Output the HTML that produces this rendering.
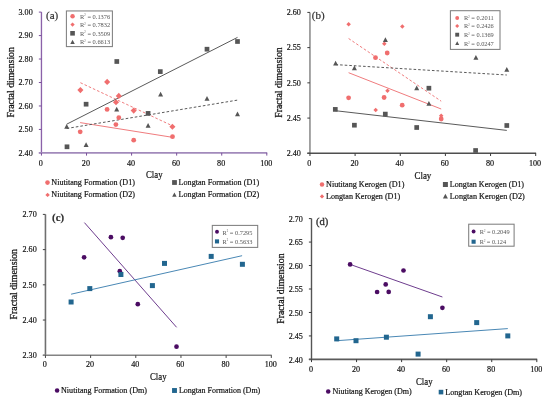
<!DOCTYPE html>
<html><head><meta charset="utf-8"><style>
html,body{margin:0;padding:0;background:#fff;}
body{width:550px;height:404px;overflow:hidden;}
svg{display:block;font-family:"Liberation Serif", serif;filter:blur(0.2px);}
</style></head><body>
<svg width="550" height="404" viewBox="0 0 550 404">
<rect width="550" height="404" fill="#fff"/>
<line x1="41.45" y1="12.10" x2="41.45" y2="152.90" stroke="#8b62a9" stroke-width="1.35" stroke-linecap="butt"/>
<line x1="38.85" y1="12.10" x2="41.45" y2="12.10" stroke="#7a4f9b" stroke-width="1.0" stroke-linecap="butt"/>
<text x="32.70" y="14.85" font-size="8.1" text-anchor="end" fill="#111111" stroke="#111111" stroke-width="0.18">3.00</text>
<line x1="38.85" y1="35.57" x2="41.45" y2="35.57" stroke="#7a4f9b" stroke-width="1.0" stroke-linecap="butt"/>
<text x="32.70" y="38.32" font-size="8.1" text-anchor="end" fill="#111111" stroke="#111111" stroke-width="0.18">2.90</text>
<line x1="38.85" y1="59.03" x2="41.45" y2="59.03" stroke="#7a4f9b" stroke-width="1.0" stroke-linecap="butt"/>
<text x="32.70" y="61.79" font-size="8.1" text-anchor="end" fill="#111111" stroke="#111111" stroke-width="0.18">2.80</text>
<line x1="38.85" y1="82.50" x2="41.45" y2="82.50" stroke="#7a4f9b" stroke-width="1.0" stroke-linecap="butt"/>
<text x="32.70" y="85.25" font-size="8.1" text-anchor="end" fill="#111111" stroke="#111111" stroke-width="0.18">2.70</text>
<line x1="38.85" y1="105.97" x2="41.45" y2="105.97" stroke="#7a4f9b" stroke-width="1.0" stroke-linecap="butt"/>
<text x="32.70" y="108.72" font-size="8.1" text-anchor="end" fill="#111111" stroke="#111111" stroke-width="0.18">2.60</text>
<line x1="38.85" y1="129.43" x2="41.45" y2="129.43" stroke="#7a4f9b" stroke-width="1.0" stroke-linecap="butt"/>
<text x="32.70" y="132.19" font-size="8.1" text-anchor="end" fill="#111111" stroke="#111111" stroke-width="0.18">2.50</text>
<line x1="38.85" y1="152.90" x2="41.45" y2="152.90" stroke="#7a4f9b" stroke-width="1.0" stroke-linecap="butt"/>
<text x="32.70" y="155.65" font-size="8.1" text-anchor="end" fill="#111111" stroke="#111111" stroke-width="0.18">2.40</text>
<line x1="38.85" y1="152.90" x2="267.20" y2="152.90" stroke="#a28abb" stroke-width="1.7" stroke-linecap="butt"/>
<line x1="41.45" y1="152.90" x2="41.45" y2="155.60" stroke="#7a4f9b" stroke-width="1.0" stroke-linecap="butt"/>
<text x="40.85" y="165.60" font-size="8.1" text-anchor="middle" fill="#111111" stroke="#111111" stroke-width="0.18">0</text>
<line x1="86.52" y1="152.90" x2="86.52" y2="155.60" stroke="#7a4f9b" stroke-width="1.0" stroke-linecap="butt"/>
<text x="85.92" y="165.60" font-size="8.1" text-anchor="middle" fill="#111111" stroke="#111111" stroke-width="0.18">20</text>
<line x1="131.59" y1="152.90" x2="131.59" y2="155.60" stroke="#7a4f9b" stroke-width="1.0" stroke-linecap="butt"/>
<text x="130.99" y="165.60" font-size="8.1" text-anchor="middle" fill="#111111" stroke="#111111" stroke-width="0.18">40</text>
<line x1="176.66" y1="152.90" x2="176.66" y2="155.60" stroke="#7a4f9b" stroke-width="1.0" stroke-linecap="butt"/>
<text x="176.06" y="165.60" font-size="8.1" text-anchor="middle" fill="#111111" stroke="#111111" stroke-width="0.18">60</text>
<line x1="221.73" y1="152.90" x2="221.73" y2="155.60" stroke="#7a4f9b" stroke-width="1.0" stroke-linecap="butt"/>
<text x="221.13" y="165.60" font-size="8.1" text-anchor="middle" fill="#111111" stroke="#111111" stroke-width="0.18">80</text>
<line x1="266.80" y1="152.90" x2="266.80" y2="155.60" stroke="#7a4f9b" stroke-width="1.0" stroke-linecap="butt"/>
<text x="266.20" y="165.60" font-size="8.1" text-anchor="middle" fill="#111111" stroke="#111111" stroke-width="0.18">100</text>
<text x="46.00" y="18.50" font-size="11" text-anchor="start" fill="#2e2e2e" stroke="#2e2e2e" stroke-width="0.18">(a)</text>
<text x="0" y="0" font-size="10.0" text-anchor="middle" fill="#111111" transform="translate(13.90,82.30) rotate(-90)" stroke="#111111" stroke-width="0.25" textLength="70.4" lengthAdjust="spacingAndGlyphs">Fractal dimension</text>
<text x="154.25" y="178.10" font-size="9.8" text-anchor="middle" fill="#111111" textLength="16.6" lengthAdjust="spacingAndGlyphs" stroke="#111111" stroke-width="0.18">Clay</text>
<line x1="80.10" y1="122.60" x2="172.40" y2="137.30" stroke="#f07c7e" stroke-width="1.0" stroke-linecap="butt"/>
<line x1="80.40" y1="82.70" x2="172.40" y2="125.80" stroke="#f07c7e" stroke-width="1.0" stroke-dasharray="2.6,2.0" stroke-linecap="butt"/>
<line x1="66.70" y1="124.20" x2="237.50" y2="37.40" stroke="#5a5a5a" stroke-width="1.0" stroke-linecap="butt"/>
<line x1="66.70" y1="128.50" x2="237.50" y2="100.10" stroke="#5a5a5a" stroke-width="1.0" stroke-dasharray="2.6,2.0" stroke-linecap="butt"/>
<circle cx="80.20" cy="131.80" r="2.40" fill="#f06e6e"/>
<circle cx="107.10" cy="109.40" r="2.40" fill="#f06e6e"/>
<circle cx="115.90" cy="124.60" r="2.40" fill="#f06e6e"/>
<circle cx="118.80" cy="117.70" r="2.40" fill="#f06e6e"/>
<circle cx="133.70" cy="140.20" r="2.40" fill="#f06e6e"/>
<circle cx="172.50" cy="136.70" r="2.40" fill="#f06e6e"/>
<path d="M80.40 87.05L83.45 90.10L80.40 93.15L77.35 90.10Z" fill="#f06e6e"/>
<path d="M107.15 78.85L110.20 81.90L107.15 84.95L104.10 81.90Z" fill="#f06e6e"/>
<path d="M116.00 99.15L119.05 102.20L116.00 105.25L112.95 102.20Z" fill="#f06e6e"/>
<path d="M118.80 92.85L121.85 95.90L118.80 98.95L115.75 95.90Z" fill="#f06e6e"/>
<path d="M133.70 107.55L136.75 110.60L133.70 113.65L130.65 110.60Z" fill="#f06e6e"/>
<path d="M172.40 123.75L175.45 126.80L172.40 129.85L169.35 126.80Z" fill="#f06e6e"/>
<rect x="64.65" y="144.45" width="4.70" height="4.70" fill="#565656"/>
<rect x="83.75" y="101.85" width="4.70" height="4.70" fill="#565656"/>
<rect x="114.45" y="59.15" width="4.70" height="4.70" fill="#565656"/>
<rect x="145.75" y="111.05" width="4.70" height="4.70" fill="#565656"/>
<rect x="157.95" y="69.25" width="4.70" height="4.70" fill="#565656"/>
<rect x="204.65" y="46.85" width="4.70" height="4.70" fill="#565656"/>
<rect x="235.15" y="39.15" width="4.70" height="4.70" fill="#565656"/>
<path d="M66.70 124.09L69.20 128.84L64.20 128.84Z" fill="#565656"/>
<path d="M86.10 142.29L88.60 147.04L83.60 147.04Z" fill="#565656"/>
<path d="M116.70 106.69L119.20 111.44L114.20 111.44Z" fill="#565656"/>
<path d="M148.10 122.99L150.60 127.74L145.60 127.74Z" fill="#565656"/>
<path d="M160.60 91.79L163.10 96.54L158.10 96.54Z" fill="#565656"/>
<path d="M207.00 95.99L209.50 100.74L204.50 100.74Z" fill="#565656"/>
<path d="M237.50 111.49L240.00 116.24L235.00 116.24Z" fill="#565656"/>
<rect x="66.40" y="10.95" width="46.00" height="35.65" fill="#fff" stroke="#7f7f7f" stroke-width="1.05"/>
<circle cx="72.55" cy="16.20" r="2.25" fill="#f06e6e"/>
<text x="80.10" y="18.50" font-size="7.1" fill="#555555" textLength="30.1" lengthAdjust="spacingAndGlyphs">R<tspan font-size="3.19" dy="-2.27">2</tspan><tspan dy="2.27"> = 0.1376</tspan></text>
<path d="M72.55 22.45L74.70 24.60L72.55 26.75L70.40 24.60Z" fill="#f06e6e"/>
<text x="80.10" y="27.10" font-size="7.1" fill="#555555" textLength="30.1" lengthAdjust="spacingAndGlyphs">R<tspan font-size="3.19" dy="-2.27">2</tspan><tspan dy="2.27"> = 0.7832</tspan></text>
<rect x="70.25" y="31.00" width="4.60" height="4.60" fill="#565656"/>
<text x="80.10" y="35.60" font-size="7.1" fill="#555555" textLength="30.1" lengthAdjust="spacingAndGlyphs">R<tspan font-size="3.19" dy="-2.27">2</tspan><tspan dy="2.27"> = 0.3509</tspan></text>
<path d="M72.55 39.75L74.80 44.02L70.30 44.02Z" fill="#565656"/>
<text x="80.10" y="44.40" font-size="7.1" fill="#555555" textLength="30.1" lengthAdjust="spacingAndGlyphs">R<tspan font-size="3.19" dy="-2.27">2</tspan><tspan dy="2.27"> = 0.6613</tspan></text>
<circle cx="47.50" cy="182.60" r="2.30" fill="#f06e6e"/>
<text x="51.30" y="184.90" font-size="8.1" text-anchor="start" fill="#111111" textLength="83.6" lengthAdjust="spacingAndGlyphs" stroke="#111111" stroke-width="0.18">Niutitang Formation (D1)</text>
<path d="M47.60 192.70L49.80 194.90L47.60 197.10L45.40 194.90Z" fill="#f06e6e"/>
<text x="51.30" y="196.80" font-size="8.1" text-anchor="start" fill="#111111" textLength="83.6" lengthAdjust="spacingAndGlyphs" stroke="#111111" stroke-width="0.18">Niutitang Formation (D2)</text>
<rect x="172.10" y="180.10" width="4.80" height="4.80" fill="#565656"/>
<text x="178.50" y="184.90" font-size="8.1" text-anchor="start" fill="#111111" textLength="80.6" lengthAdjust="spacingAndGlyphs" stroke="#111111" stroke-width="0.18">Longtan Formation (D1)</text>
<path d="M174.40 192.55L176.65 196.82L172.15 196.82Z" fill="#565656"/>
<text x="178.50" y="196.80" font-size="8.1" text-anchor="start" fill="#111111" textLength="80.6" lengthAdjust="spacingAndGlyphs" stroke="#111111" stroke-width="0.18">Longtan Formation (D2)</text>
<line x1="309.95" y1="12.40" x2="309.95" y2="153.30" stroke="#8f8f8f" stroke-width="1.6" stroke-linecap="butt"/>
<line x1="307.35" y1="12.40" x2="309.95" y2="12.40" stroke="#3a3a3a" stroke-width="1.0" stroke-linecap="butt"/>
<text x="300.90" y="15.15" font-size="8.1" text-anchor="end" fill="#111111" stroke="#111111" stroke-width="0.18">2.60</text>
<line x1="307.35" y1="47.62" x2="309.95" y2="47.62" stroke="#3a3a3a" stroke-width="1.0" stroke-linecap="butt"/>
<text x="300.90" y="50.38" font-size="8.1" text-anchor="end" fill="#111111" stroke="#111111" stroke-width="0.18">2.55</text>
<line x1="307.35" y1="82.85" x2="309.95" y2="82.85" stroke="#3a3a3a" stroke-width="1.0" stroke-linecap="butt"/>
<text x="300.90" y="85.60" font-size="8.1" text-anchor="end" fill="#111111" stroke="#111111" stroke-width="0.18">2.50</text>
<line x1="307.35" y1="118.08" x2="309.95" y2="118.08" stroke="#3a3a3a" stroke-width="1.0" stroke-linecap="butt"/>
<text x="300.90" y="120.83" font-size="8.1" text-anchor="end" fill="#111111" stroke="#111111" stroke-width="0.18">2.45</text>
<line x1="307.35" y1="153.30" x2="309.95" y2="153.30" stroke="#3a3a3a" stroke-width="1.0" stroke-linecap="butt"/>
<text x="300.90" y="156.05" font-size="8.1" text-anchor="end" fill="#111111" stroke="#111111" stroke-width="0.18">2.40</text>
<line x1="307.35" y1="153.30" x2="536.10" y2="153.30" stroke="#4f4f4f" stroke-width="1.5" stroke-linecap="butt"/>
<line x1="309.95" y1="153.30" x2="309.95" y2="156.00" stroke="#3a3a3a" stroke-width="1.0" stroke-linecap="butt"/>
<text x="309.35" y="165.60" font-size="8.1" text-anchor="middle" fill="#111111" stroke="#111111" stroke-width="0.18">0</text>
<line x1="355.10" y1="153.30" x2="355.10" y2="156.00" stroke="#3a3a3a" stroke-width="1.0" stroke-linecap="butt"/>
<text x="354.50" y="165.60" font-size="8.1" text-anchor="middle" fill="#111111" stroke="#111111" stroke-width="0.18">20</text>
<line x1="400.25" y1="153.30" x2="400.25" y2="156.00" stroke="#3a3a3a" stroke-width="1.0" stroke-linecap="butt"/>
<text x="399.65" y="165.60" font-size="8.1" text-anchor="middle" fill="#111111" stroke="#111111" stroke-width="0.18">40</text>
<line x1="445.40" y1="153.30" x2="445.40" y2="156.00" stroke="#3a3a3a" stroke-width="1.0" stroke-linecap="butt"/>
<text x="444.80" y="165.60" font-size="8.1" text-anchor="middle" fill="#111111" stroke="#111111" stroke-width="0.18">60</text>
<line x1="490.55" y1="153.30" x2="490.55" y2="156.00" stroke="#3a3a3a" stroke-width="1.0" stroke-linecap="butt"/>
<text x="489.95" y="165.60" font-size="8.1" text-anchor="middle" fill="#111111" stroke="#111111" stroke-width="0.18">80</text>
<line x1="535.70" y1="153.30" x2="535.70" y2="156.00" stroke="#3a3a3a" stroke-width="1.0" stroke-linecap="butt"/>
<text x="535.10" y="165.60" font-size="8.1" text-anchor="middle" fill="#111111" stroke="#111111" stroke-width="0.18">100</text>
<text x="311.80" y="19.10" font-size="11" text-anchor="start" fill="#2e2e2e" stroke="#2e2e2e" stroke-width="0.18">(b)</text>
<text x="0" y="0" font-size="10.0" text-anchor="middle" fill="#111111" transform="translate(281.90,82.50) rotate(-90)" stroke="#111111" stroke-width="0.25" textLength="70.4" lengthAdjust="spacingAndGlyphs">Fractal dimension</text>
<text x="422.90" y="178.80" font-size="9.8" text-anchor="middle" fill="#111111" textLength="16.8" lengthAdjust="spacingAndGlyphs" stroke="#111111" stroke-width="0.18">Clay</text>
<line x1="348.60" y1="72.70" x2="441.20" y2="109.00" stroke="#f07c7e" stroke-width="1.0" stroke-linecap="butt"/>
<line x1="348.60" y1="38.50" x2="441.20" y2="101.20" stroke="#f07c7e" stroke-width="1.0" stroke-dasharray="2.6,2.0" stroke-linecap="butt"/>
<line x1="335.30" y1="110.70" x2="506.80" y2="130.40" stroke="#5a5a5a" stroke-width="1.0" stroke-linecap="butt"/>
<line x1="335.50" y1="64.60" x2="506.80" y2="75.00" stroke="#5a5a5a" stroke-width="1.0" stroke-dasharray="2.6,2.0" stroke-linecap="butt"/>
<circle cx="348.60" cy="97.80" r="2.40" fill="#f06e6e"/>
<circle cx="375.50" cy="57.70" r="2.40" fill="#f06e6e"/>
<circle cx="384.10" cy="97.50" r="2.40" fill="#f06e6e"/>
<circle cx="387.20" cy="53.00" r="2.40" fill="#f06e6e"/>
<circle cx="402.20" cy="105.20" r="2.40" fill="#f06e6e"/>
<circle cx="441.20" cy="119.00" r="2.40" fill="#f06e6e"/>
<path d="M348.60 21.95L350.85 24.20L348.60 26.45L346.35 24.20Z" fill="#f06e6e"/>
<path d="M375.70 107.85L377.95 110.10L375.70 112.35L373.45 110.10Z" fill="#f06e6e"/>
<path d="M384.30 41.45L386.55 43.70L384.30 45.95L382.05 43.70Z" fill="#f06e6e"/>
<path d="M387.50 88.55L389.75 90.80L387.50 93.05L385.25 90.80Z" fill="#f06e6e"/>
<path d="M402.30 24.35L404.55 26.60L402.30 28.85L400.05 26.60Z" fill="#f06e6e"/>
<path d="M441.20 113.55L443.45 115.80L441.20 118.05L438.95 115.80Z" fill="#f06e6e"/>
<rect x="332.95" y="107.05" width="4.70" height="4.70" fill="#565656"/>
<rect x="352.05" y="122.85" width="4.70" height="4.70" fill="#565656"/>
<rect x="382.95" y="111.75" width="4.70" height="4.70" fill="#565656"/>
<rect x="414.35" y="125.15" width="4.70" height="4.70" fill="#565656"/>
<rect x="426.55" y="85.85" width="4.70" height="4.70" fill="#565656"/>
<rect x="473.25" y="148.15" width="4.70" height="4.70" fill="#565656"/>
<rect x="504.45" y="123.15" width="4.70" height="4.70" fill="#565656"/>
<path d="M335.60 60.79L338.10 65.54L333.10 65.54Z" fill="#565656"/>
<path d="M354.40 65.39L356.90 70.14L351.90 70.14Z" fill="#565656"/>
<path d="M385.40 37.19L387.90 41.94L382.90 41.94Z" fill="#565656"/>
<path d="M416.70 85.59L419.20 90.34L414.20 90.34Z" fill="#565656"/>
<path d="M428.90 100.99L431.40 105.74L426.40 105.74Z" fill="#565656"/>
<path d="M475.90 54.89L478.40 59.64L473.40 59.64Z" fill="#565656"/>
<path d="M506.80 67.09L509.30 71.84L504.30 71.84Z" fill="#565656"/>
<rect x="450.40" y="10.70" width="49.60" height="38.70" fill="#fff" stroke="#7f7f7f" stroke-width="1.05"/>
<circle cx="457.20" cy="18.00" r="1.95" fill="#f06e6e"/>
<text x="464.00" y="20.30" font-size="7.1" fill="#555555" textLength="29.8" lengthAdjust="spacingAndGlyphs">R<tspan font-size="3.19" dy="-2.27">2</tspan><tspan dy="2.27"> = 0.2011</tspan></text>
<path d="M457.20 24.00L459.20 26.00L457.20 28.00L455.20 26.00Z" fill="#f06e6e"/>
<text x="464.00" y="28.20" font-size="7.1" fill="#555555" textLength="29.8" lengthAdjust="spacingAndGlyphs">R<tspan font-size="3.19" dy="-2.27">2</tspan><tspan dy="2.27"> = 0.2426</tspan></text>
<rect x="455.25" y="32.75" width="3.90" height="3.90" fill="#565656"/>
<text x="464.00" y="36.80" font-size="7.1" fill="#555555" textLength="29.8" lengthAdjust="spacingAndGlyphs">R<tspan font-size="3.19" dy="-2.27">2</tspan><tspan dy="2.27"> = 0.1369</tspan></text>
<path d="M457.20 41.31L459.20 45.11L455.20 45.11Z" fill="#565656"/>
<text x="464.00" y="45.80" font-size="7.1" fill="#555555" textLength="29.8" lengthAdjust="spacingAndGlyphs">R<tspan font-size="3.19" dy="-2.27">2</tspan><tspan dy="2.27"> = 0.0247</tspan></text>
<circle cx="322.00" cy="184.40" r="2.25" fill="#f06e6e"/>
<text x="326.00" y="186.90" font-size="8.1" text-anchor="start" fill="#111111" textLength="78.4" lengthAdjust="spacingAndGlyphs" stroke="#111111" stroke-width="0.18">Niutitang Kerogen (D1)</text>
<path d="M322.00 194.20L324.20 196.40L322.00 198.60L319.80 196.40Z" fill="#f06e6e"/>
<text x="326.00" y="198.80" font-size="8.1" text-anchor="start" fill="#111111" textLength="74.2" lengthAdjust="spacingAndGlyphs" stroke="#111111" stroke-width="0.18">Longtan Kerogen (D1)</text>
<rect x="442.90" y="182.00" width="5.00" height="5.00" fill="#565656"/>
<text x="449.80" y="186.90" font-size="8.1" text-anchor="start" fill="#111111" textLength="74.2" lengthAdjust="spacingAndGlyphs" stroke="#111111" stroke-width="0.18">Longtan Kerogen (D1)</text>
<path d="M445.40 193.79L447.90 198.54L442.90 198.54Z" fill="#565656"/>
<text x="449.80" y="198.80" font-size="8.1" text-anchor="start" fill="#111111" textLength="75.0" lengthAdjust="spacingAndGlyphs" stroke="#111111" stroke-width="0.18">Longtan Kerogen (D2)</text>
<line x1="45.45" y1="214.40" x2="45.45" y2="355.25" stroke="#6f6f6f" stroke-width="1.6" stroke-linecap="butt"/>
<line x1="42.85" y1="214.40" x2="45.45" y2="214.40" stroke="#444" stroke-width="1.0" stroke-linecap="butt"/>
<text x="36.70" y="217.15" font-size="8.1" text-anchor="end" fill="#111111" stroke="#111111" stroke-width="0.18">2.70</text>
<line x1="42.85" y1="249.61" x2="45.45" y2="249.61" stroke="#444" stroke-width="1.0" stroke-linecap="butt"/>
<text x="36.70" y="252.37" font-size="8.1" text-anchor="end" fill="#111111" stroke="#111111" stroke-width="0.18">2.60</text>
<line x1="42.85" y1="284.82" x2="45.45" y2="284.82" stroke="#444" stroke-width="1.0" stroke-linecap="butt"/>
<text x="36.70" y="287.58" font-size="8.1" text-anchor="end" fill="#111111" stroke="#111111" stroke-width="0.18">2.50</text>
<line x1="42.85" y1="320.04" x2="45.45" y2="320.04" stroke="#444" stroke-width="1.0" stroke-linecap="butt"/>
<text x="36.70" y="322.79" font-size="8.1" text-anchor="end" fill="#111111" stroke="#111111" stroke-width="0.18">2.40</text>
<line x1="42.85" y1="355.25" x2="45.45" y2="355.25" stroke="#444" stroke-width="1.0" stroke-linecap="butt"/>
<text x="36.70" y="358.00" font-size="8.1" text-anchor="end" fill="#111111" stroke="#111111" stroke-width="0.18">2.30</text>
<line x1="42.85" y1="355.25" x2="271.70" y2="355.25" stroke="#838383" stroke-width="1.7" stroke-linecap="butt"/>
<line x1="45.45" y1="355.25" x2="45.45" y2="357.95" stroke="#444" stroke-width="1.0" stroke-linecap="butt"/>
<text x="44.85" y="367.40" font-size="8.1" text-anchor="middle" fill="#111111" stroke="#111111" stroke-width="0.18">0</text>
<line x1="90.62" y1="355.25" x2="90.62" y2="357.95" stroke="#444" stroke-width="1.0" stroke-linecap="butt"/>
<text x="90.02" y="367.40" font-size="8.1" text-anchor="middle" fill="#111111" stroke="#111111" stroke-width="0.18">20</text>
<line x1="135.79" y1="355.25" x2="135.79" y2="357.95" stroke="#444" stroke-width="1.0" stroke-linecap="butt"/>
<text x="135.19" y="367.40" font-size="8.1" text-anchor="middle" fill="#111111" stroke="#111111" stroke-width="0.18">40</text>
<line x1="180.96" y1="355.25" x2="180.96" y2="357.95" stroke="#444" stroke-width="1.0" stroke-linecap="butt"/>
<text x="180.36" y="367.40" font-size="8.1" text-anchor="middle" fill="#111111" stroke="#111111" stroke-width="0.18">60</text>
<line x1="226.13" y1="355.25" x2="226.13" y2="357.95" stroke="#444" stroke-width="1.0" stroke-linecap="butt"/>
<text x="225.53" y="367.40" font-size="8.1" text-anchor="middle" fill="#111111" stroke="#111111" stroke-width="0.18">80</text>
<line x1="271.30" y1="355.25" x2="271.30" y2="357.95" stroke="#444" stroke-width="1.0" stroke-linecap="butt"/>
<text x="270.70" y="367.40" font-size="8.1" text-anchor="middle" fill="#111111" stroke="#111111" stroke-width="0.18">100</text>
<text x="52.10" y="221.00" font-size="10.8" text-anchor="start" fill="#2e2e2e" font-weight="bold" stroke="#2e2e2e" stroke-width="0.18">(c)</text>
<text x="0" y="0" font-size="10.0" text-anchor="middle" fill="#111111" transform="translate(17.40,284.20) rotate(-90)" stroke="#111111" stroke-width="0.25" textLength="70.4" lengthAdjust="spacingAndGlyphs">Fractal dimension</text>
<text x="158.30" y="380.10" font-size="9.8" text-anchor="middle" fill="#111111" textLength="16.6" lengthAdjust="spacingAndGlyphs" stroke="#111111" stroke-width="0.18">Clay</text>
<line x1="84.40" y1="222.60" x2="176.60" y2="327.30" stroke="#6e3d8e" stroke-width="1.0" stroke-linecap="butt"/>
<line x1="71.10" y1="294.20" x2="242.10" y2="255.70" stroke="#4a88b5" stroke-width="1.0" stroke-linecap="butt"/>
<circle cx="84.10" cy="257.30" r="2.35" fill="#4b0c63"/>
<circle cx="110.90" cy="237.20" r="2.35" fill="#4b0c63"/>
<circle cx="119.80" cy="271.20" r="2.35" fill="#4b0c63"/>
<circle cx="122.70" cy="237.80" r="2.35" fill="#4b0c63"/>
<circle cx="137.80" cy="304.20" r="2.35" fill="#4b0c63"/>
<circle cx="176.50" cy="346.70" r="2.35" fill="#4b0c63"/>
<rect x="68.60" y="299.50" width="5.00" height="5.00" fill="#22668f"/>
<rect x="87.30" y="286.10" width="5.00" height="5.00" fill="#22668f"/>
<rect x="118.40" y="272.00" width="5.00" height="5.00" fill="#22668f"/>
<rect x="149.90" y="283.10" width="5.00" height="5.00" fill="#22668f"/>
<rect x="162.00" y="260.90" width="5.00" height="5.00" fill="#22668f"/>
<rect x="208.70" y="253.90" width="5.00" height="5.00" fill="#22668f"/>
<rect x="239.90" y="261.80" width="5.00" height="5.00" fill="#22668f"/>
<rect x="212.30" y="225.40" width="45.40" height="22.00" fill="#fff" stroke="#7f7f7f" stroke-width="1.05"/>
<circle cx="217.00" cy="231.70" r="1.95" fill="#4b0c63"/>
<text x="222.50" y="234.70" font-size="7.1" fill="#555555" textLength="30.0" lengthAdjust="spacingAndGlyphs">R<tspan font-size="3.19" dy="-2.27">2</tspan><tspan dy="2.27"> = 0.7295</tspan></text>
<rect x="214.95" y="239.35" width="4.10" height="4.10" fill="#22668f"/>
<text x="222.50" y="243.70" font-size="7.1" fill="#555555" textLength="30.0" lengthAdjust="spacingAndGlyphs">R<tspan font-size="3.19" dy="-2.27">2</tspan><tspan dy="2.27"> = 0.5633</tspan></text>
<circle cx="57.10" cy="390.40" r="2.25" fill="#4b0c63"/>
<text x="61.00" y="392.90" font-size="8.1" text-anchor="start" fill="#111111" textLength="86.0" lengthAdjust="spacingAndGlyphs" stroke="#111111" stroke-width="0.18">Niutitang Formation (Dm)</text>
<rect x="172.05" y="388.05" width="4.90" height="4.90" fill="#22668f"/>
<text x="178.90" y="392.90" font-size="8.1" text-anchor="start" fill="#111111" textLength="81.4" lengthAdjust="spacingAndGlyphs" stroke="#111111" stroke-width="0.18">Longtan Formation (Dm)</text>
<line x1="311.50" y1="218.60" x2="311.50" y2="359.40" stroke="#555" stroke-width="1.4" stroke-linecap="butt"/>
<line x1="308.90" y1="218.60" x2="311.50" y2="218.60" stroke="#3a3a3a" stroke-width="1.0" stroke-linecap="butt"/>
<text x="302.90" y="221.85" font-size="8.1" text-anchor="end" fill="#111111" stroke="#111111" stroke-width="0.18">2.70</text>
<line x1="308.90" y1="242.07" x2="311.50" y2="242.07" stroke="#3a3a3a" stroke-width="1.0" stroke-linecap="butt"/>
<text x="302.90" y="245.32" font-size="8.1" text-anchor="end" fill="#111111" stroke="#111111" stroke-width="0.18">2.65</text>
<line x1="308.90" y1="265.53" x2="311.50" y2="265.53" stroke="#3a3a3a" stroke-width="1.0" stroke-linecap="butt"/>
<text x="302.90" y="268.79" font-size="8.1" text-anchor="end" fill="#111111" stroke="#111111" stroke-width="0.18">2.60</text>
<line x1="308.90" y1="289.00" x2="311.50" y2="289.00" stroke="#3a3a3a" stroke-width="1.0" stroke-linecap="butt"/>
<text x="302.90" y="292.25" font-size="8.1" text-anchor="end" fill="#111111" stroke="#111111" stroke-width="0.18">2.55</text>
<line x1="308.90" y1="312.47" x2="311.50" y2="312.47" stroke="#3a3a3a" stroke-width="1.0" stroke-linecap="butt"/>
<text x="302.90" y="315.72" font-size="8.1" text-anchor="end" fill="#111111" stroke="#111111" stroke-width="0.18">2.50</text>
<line x1="308.90" y1="335.93" x2="311.50" y2="335.93" stroke="#3a3a3a" stroke-width="1.0" stroke-linecap="butt"/>
<text x="302.90" y="339.19" font-size="8.1" text-anchor="end" fill="#111111" stroke="#111111" stroke-width="0.18">2.45</text>
<line x1="308.90" y1="359.40" x2="311.50" y2="359.40" stroke="#3a3a3a" stroke-width="1.0" stroke-linecap="butt"/>
<text x="302.90" y="362.65" font-size="8.1" text-anchor="end" fill="#111111" stroke="#111111" stroke-width="0.18">2.40</text>
<line x1="308.90" y1="359.40" x2="537.20" y2="359.40" stroke="#5a5a5a" stroke-width="1.6" stroke-linecap="butt"/>
<line x1="311.50" y1="359.40" x2="311.50" y2="362.10" stroke="#3a3a3a" stroke-width="1.0" stroke-linecap="butt"/>
<text x="310.90" y="371.60" font-size="8.1" text-anchor="middle" fill="#111111" stroke="#111111" stroke-width="0.18">0</text>
<line x1="356.56" y1="359.40" x2="356.56" y2="362.10" stroke="#3a3a3a" stroke-width="1.0" stroke-linecap="butt"/>
<text x="355.96" y="371.60" font-size="8.1" text-anchor="middle" fill="#111111" stroke="#111111" stroke-width="0.18">20</text>
<line x1="401.62" y1="359.40" x2="401.62" y2="362.10" stroke="#3a3a3a" stroke-width="1.0" stroke-linecap="butt"/>
<text x="401.02" y="371.60" font-size="8.1" text-anchor="middle" fill="#111111" stroke="#111111" stroke-width="0.18">40</text>
<line x1="446.68" y1="359.40" x2="446.68" y2="362.10" stroke="#3a3a3a" stroke-width="1.0" stroke-linecap="butt"/>
<text x="446.08" y="371.60" font-size="8.1" text-anchor="middle" fill="#111111" stroke="#111111" stroke-width="0.18">60</text>
<line x1="491.74" y1="359.40" x2="491.74" y2="362.10" stroke="#3a3a3a" stroke-width="1.0" stroke-linecap="butt"/>
<text x="491.14" y="371.60" font-size="8.1" text-anchor="middle" fill="#111111" stroke="#111111" stroke-width="0.18">80</text>
<line x1="536.80" y1="359.40" x2="536.80" y2="362.10" stroke="#3a3a3a" stroke-width="1.0" stroke-linecap="butt"/>
<text x="536.20" y="371.60" font-size="8.1" text-anchor="middle" fill="#111111" stroke="#111111" stroke-width="0.18">100</text>
<text x="315.90" y="225.40" font-size="10.6" text-anchor="start" fill="#2e2e2e" stroke="#2e2e2e" stroke-width="0.3">(d)</text>
<text x="0" y="0" font-size="10.0" text-anchor="middle" fill="#111111" transform="translate(283.70,288.60) rotate(-90)" stroke="#111111" stroke-width="0.25" textLength="70.4" lengthAdjust="spacingAndGlyphs">Fractal dimension</text>
<text x="424.30" y="384.80" font-size="9.8" text-anchor="middle" fill="#111111" textLength="16.6" lengthAdjust="spacingAndGlyphs" stroke="#111111" stroke-width="0.18">Clay</text>
<line x1="350.10" y1="264.40" x2="442.40" y2="297.00" stroke="#6e3d8e" stroke-width="1.0" stroke-linecap="butt"/>
<line x1="336.70" y1="340.70" x2="507.80" y2="328.60" stroke="#4a88b5" stroke-width="1.0" stroke-linecap="butt"/>
<circle cx="350.10" cy="264.40" r="2.35" fill="#4b0c63"/>
<circle cx="377.10" cy="292.00" r="2.35" fill="#4b0c63"/>
<circle cx="385.70" cy="284.40" r="2.35" fill="#4b0c63"/>
<circle cx="388.70" cy="291.90" r="2.35" fill="#4b0c63"/>
<circle cx="403.50" cy="270.50" r="2.35" fill="#4b0c63"/>
<circle cx="442.40" cy="307.80" r="2.35" fill="#4b0c63"/>
<rect x="334.20" y="336.40" width="5.00" height="5.00" fill="#22668f"/>
<rect x="353.50" y="338.20" width="5.00" height="5.00" fill="#22668f"/>
<rect x="383.90" y="334.70" width="5.00" height="5.00" fill="#22668f"/>
<rect x="415.60" y="351.60" width="5.00" height="5.00" fill="#22668f"/>
<rect x="427.90" y="314.20" width="5.00" height="5.00" fill="#22668f"/>
<rect x="474.20" y="320.10" width="5.00" height="5.00" fill="#22668f"/>
<rect x="505.30" y="333.40" width="5.00" height="5.00" fill="#22668f"/>
<rect x="468.70" y="224.20" width="45.40" height="22.00" fill="#fff" stroke="#7f7f7f" stroke-width="1.05"/>
<circle cx="473.60" cy="231.50" r="1.95" fill="#4b0c63"/>
<text x="479.70" y="234.00" font-size="7.1" fill="#555555" textLength="29.9" lengthAdjust="spacingAndGlyphs">R<tspan font-size="3.19" dy="-2.27">2</tspan><tspan dy="2.27"> = 0.2049</tspan></text>
<rect x="471.55" y="239.65" width="4.10" height="4.10" fill="#22668f"/>
<text x="479.70" y="244.20" font-size="7.1" fill="#555555" textLength="26.4" lengthAdjust="spacingAndGlyphs">R<tspan font-size="3.19" dy="-2.27">2</tspan><tspan dy="2.27"> = 0.124</tspan></text>
<circle cx="328.20" cy="391.50" r="2.25" fill="#4b0c63"/>
<text x="332.40" y="394.20" font-size="8.1" text-anchor="start" fill="#111111" textLength="79.3" lengthAdjust="spacingAndGlyphs" stroke="#111111" stroke-width="0.18">Niutitang Kerogen (Dm)</text>
<rect x="438.70" y="389.80" width="4.60" height="4.60" fill="#22668f"/>
<text x="445.20" y="394.50" font-size="8.1" text-anchor="start" fill="#111111" textLength="76.9" lengthAdjust="spacingAndGlyphs" stroke="#111111" stroke-width="0.18">Longtan Kerogen (Dm)</text>
</svg>
</body></html>
